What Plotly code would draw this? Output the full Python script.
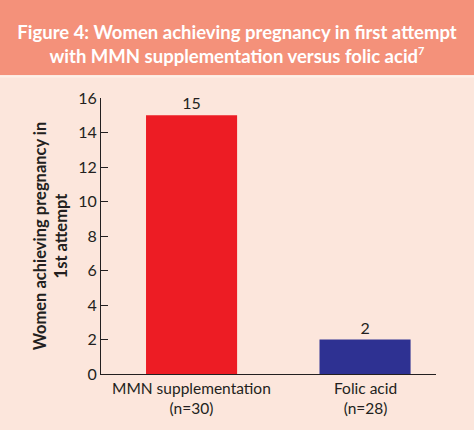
import plotly.graph_objects as go

# data
categories = ["MMN supplementation<br>(n=30)", "Folic acid<br>(n=28)"]
women_pregnant = [15, 2]
bar_colors = ["#ED1C24", "#2E3192"]
y_ticks = [0, 2, 4, 6, 8, 10, 12, 14, 16]

x_pos = list(range(len(categories)))
x_lo, x_hi = -0.522, 1.409

fig = go.Figure()

fig.add_trace(go.Bar(
    x=x_pos,
    y=women_pregnant,
    width=0.525,
    marker=dict(color=bar_colors, line=dict(width=0)),
    text=[str(v) for v in women_pregnant],
    textposition="outside",
    textfont=dict(size=16, color="#231F20"),
    cliponaxis=False,
))

# banner behind the title
fig.add_shape(type="rect", xref="paper", yref="paper",
              x0=-0.35, x1=1.2, y0=1.083, y1=1.4,
              fillcolor="#F4917A", line=dict(width=0), layer="below")
fig.add_shape(type="line", xref="paper", yref="paper",
              x0=-0.35, x1=1.2, y0=1.078, y1=1.078,
              line=dict(color="#FDF0E8", width=2), layer="below")

fig.update_layout(
    width=474, height=430,
    margin=dict(l=101, r=38, t=98, b=56),
    paper_bgcolor="#FCE6DC",
    plot_bgcolor="#FCE6DC",
    font=dict(family="Lato", color="#231F20"),
    showlegend=False,
    title=dict(
        text="<b>Figure 4: Women achieving pregnancy in first attempt<br>"
             "with MMN supplementation versus folic acid"
             "<sup><span style='font-size:11px'>7</span></sup></b>",
        font=dict(size=18.5, color="white", family="Lato"),
        x=0.5, xanchor="center", xref="container",
        y=1 - 39 / 430, yanchor="middle", yref="container",
    ),
)

# x axis: only the end ticks, category names go in annotations
fig.update_xaxes(
    range=[x_lo, x_hi],
    tickmode="array",
    tickvals=[x_lo, x_hi],
    showticklabels=False,
    ticks="inside", ticklen=6, tickcolor="#231F20", tickwidth=1,
    showline=True, linecolor="#231F20", linewidth=1,
    showgrid=False, zeroline=False,
)

for xp, lab in zip(x_pos, categories):
    fig.add_annotation(x=xp, y=0, xref="x", yref="y", text=lab,
                       showarrow=False, yanchor="top", yshift=-3,
                       font=dict(size=15.5, color="#231F20"))

fig.update_yaxes(
    range=[0, 16],
    tickvals=y_ticks,
    ticks="inside", ticklen=7, tickcolor="#231F20", tickwidth=1,
    tickfont=dict(size=16, color="#231F20"),
    showline=True, linecolor="#231F20", linewidth=1,
    showgrid=False, zeroline=False,
    title=dict(text="<b>Women achieving pregnancy in<br>1st attempt</b>",
               font=dict(size=16.5, color="#231F20"), standoff=6),
)

fig.write_html("out.html", config={"displayModeBar": False},
               post_script="document.body.style.margin='0';")
